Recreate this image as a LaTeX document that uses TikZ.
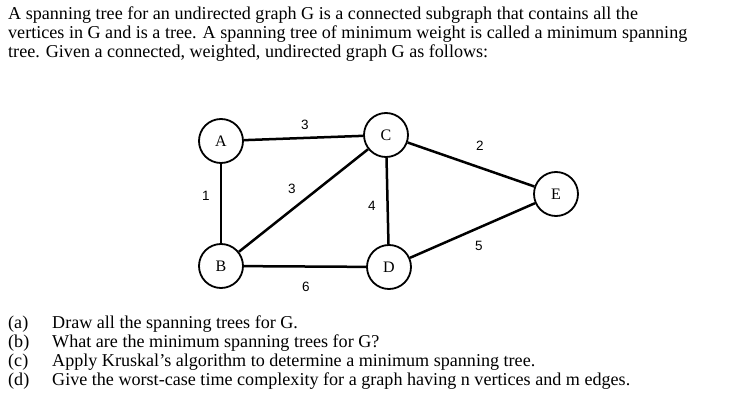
\documentclass[tikz,border=0pt]{standalone}
\usepackage{fontspec}
\setmainfont{Liberation Serif}
\newfontfamily\lab{Liberation Sans}
\begin{document}
\begin{tikzpicture}[x=1pt,y=-1pt,
  vx/.style={circle,draw,line width=1.8pt,minimum size=44pt,inner sep=0pt,font=\fontsize{16}{18}\selectfont},
  ed/.style={line width=2.5pt},
  wt/.style={font=\lab\fontsize{13.5}{15}\selectfont},
  txt/.style={anchor=base west,inner sep=0pt,font=\fontsize{18.1}{19}\selectfont}]
\useasboundingbox (0,0) rectangle (732,412);
\node[txt] (t1) at (8,20) {A spanning tree for an undirected graph G is a connected subgraph that contains all the};
\node[txt] (t2) at (8,39) {vertices in G and is a tree. A spanning tree of minimum weight is called a minimum spanning};
\node[txt] (t3) at (8,58) {tree. Given a connected, weighted, undirected graph G as follows:};
\node[vx] (A) at (221,141) {A};
\node[vx] (C) at (386,135) {C};
\node[vx] (B) at (221,266) {B};
\node[vx] (D) at (389,267) {D};
\node[vx] (E) at (556,194) {E};
\draw[ed] (A) -- (C);
\draw[ed] (A) -- (B);
\draw[ed] (B) -- (C);
\draw[ed] (C) -- (D);
\draw[ed] (B) -- (D);
\draw[ed] (C) -- (E);
\draw[ed] (D) -- (E);
\node[wt] (w1) at (305,125) {3};
\node[wt] (w2) at (480,146) {2};
\node[wt] (w3) at (206,196) {1};
\node[wt] (w4) at (292,189) {3};
\node[wt] (w5) at (372,206) {4};
\node[wt] (w6) at (479,246) {5};
\node[wt] (w7) at (306,287) {6};
\foreach \l/\t/\y in {a/Draw all the spanning trees for G./328, b/What are the minimum spanning trees for G?/347, c/Apply Kruskal’s algorithm to determine a minimum spanning tree./366, d/Give the worst-case time complexity for a graph having n vertices and m edges./385}{
  \node[txt] (l\l) at (8,\y) {(\l)};
  \node[txt] (q\l) at (52,\y) {\t};
}
\end{tikzpicture}
\end{document}
